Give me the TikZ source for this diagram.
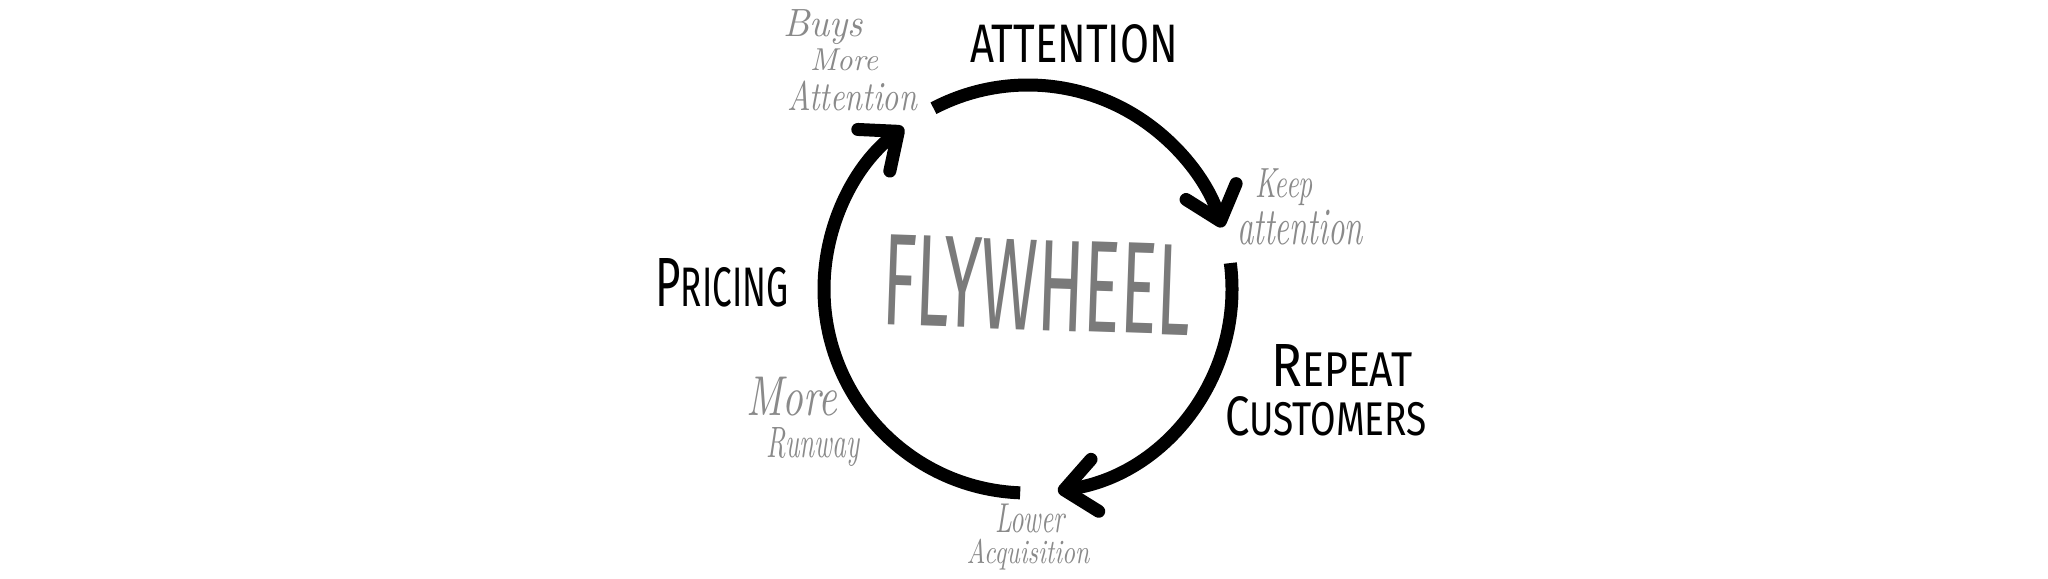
\documentclass[tikz,border=0pt]{standalone}
\usepackage{fontspec}
\usetikzlibrary{arrows.meta}
\newfontfamily\hand{Fira Sans}
\definecolor{scriptgray}{HTML}{8A8A8A}
\definecolor{flygray}{HTML}{7A7A7A}
\tikzset{
  wheel/.style={line width=0.26cm, line cap=butt, black,
    -{Straight Barb[length=0.62cm, width=1.05cm, round]}},
  caps/.style={inner sep=0pt, black, font=\hand},
  script/.style={inner sep=0pt, text=scriptgray, font=\itshape},
}
\begin{document}
\begin{tikzpicture}[x=0.02cm, y=0.02cm]
\useasboundingbox (-1028,-289) rectangle (1020,289);
\coordinate (c) at (0,0);
% wheel arcs
\draw[wheel] (117.6:204) arc[start angle=117.6, end angle=17.6, radius=204];
\draw[wheel] (7.3:204) arc[start angle=7.3, end angle=-81.6, radius=204];
\draw[wheel] (-92.2:204) arc[start angle=-92.2, end angle=-232.4, radius=204];
% center
\node[inner sep=0pt, text=flygray, font=\hand, rotate=-2] (fly) at (9,4)
  {\resizebox{6.18cm}{1.8cm}{FLYWHEEL}};
% black labels
\node[caps] (att) at (46,245) {\resizebox{4.16cm}{0.76cm}{ATTENTION}};
\node[caps] (rep) at (314,-76) {\resizebox{2.82cm}{0.84cm}{R\scalebox{0.8}{EPEAT}}};
\node[caps] (cus) at (298,-127) {\resizebox{4.04cm}{0.78cm}{C\scalebox{0.85}{USTOMERS}}};
\node[caps] (pri) at (-306,6) {\resizebox{2.66cm}{0.96cm}{P\scalebox{0.8}{RICING}}};
% gray script labels
\node[script] (buys) at (-205,262) {\resizebox*{1.6cm}{0.7cm}{Buys}};
\node[script] (more1) at (-184,229) {\resizebox*{1.36cm}{0.44cm}{More}};
\node[script] (attn1) at (-176,193) {\resizebox*{2.6cm}{0.6cm}{Attention}};
\node[script] (keep) at (256,102) {\resizebox*{1.16cm}{0.74cm}{Keep}};
\node[script] (attn2) at (272,61) {\resizebox*{2.52cm}{0.7cm}{attention}};
\node[script] (more2) at (-236,-108) {\resizebox*{1.82cm}{0.78cm}{More}};
\node[script] (run) at (-215,-158) {\resizebox*{1.86cm}{0.78cm}{Runway}};
\node[script] (low) at (2,-229) {\resizebox*{1.4cm}{0.58cm}{Lower}};
\node[script] (acq) at (0,-266) {\resizebox*{2.46cm}{0.62cm}{Acquisition}};
\end{tikzpicture}
\end{document}
